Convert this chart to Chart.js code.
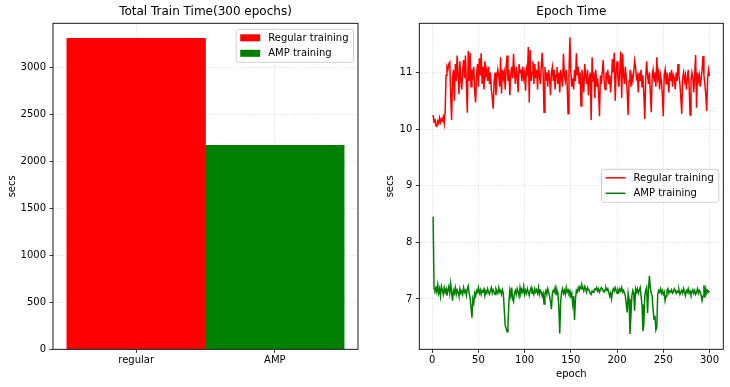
<!DOCTYPE html>
<html><head><meta charset="utf-8">
<script src="https://cdn.jsdelivr.net/npm/chart.js@4.4.1/dist/chart.umd.min.js"></script>
<style>
html,body{margin:0;padding:0;background:#fff;}
body{width:730px;height:387px;position:relative;overflow:hidden;}
canvas{position:absolute;top:0;}
#c1{left:0;} #c2{left:365px;}
</style></head><body>
<canvas id="c1" width="365" height="387"></canvas>
<canvas id="c2" width="365" height="387"></canvas>
<script>
// ---------- data ----------
const categories = ['regular', 'AMP'];
const seriesNames = ['Regular training', 'AMP training'];
const totalTrainTime = [3308, 2170];
const barTicks = [0, 500, 1000, 1500, 2000, 2500, 3000];
const epochTicks = [0, 50, 100, 150, 200, 250, 300];
const secsTicks = [7, 8, 9, 10, 11];

const regularEpochTime = [
10.25,10.12,10.18,10.06,10.05,10.14,10.10,10.20,10.12,10.18,10.15,10.22,10.10,10.30,10.95,11.10,11.05,11.15,11.18,10.60,
10.16,10.90,11.05,10.50,11.15,10.85,11.30,10.95,10.62,11.20,10.85,10.70,11.05,11.22,10.90,11.30,10.80,10.29,11.38,10.85,
11.35,10.75,11.05,10.95,11.10,10.65,10.47,10.95,11.15,10.75,11.25,10.95,11.34,10.80,11.10,10.70,11.20,10.95,11.05,10.85,
11.10,10.80,11.00,10.70,10.55,10.36,10.85,11.00,10.60,10.90,11.05,10.95,10.75,11.27,10.63,11.05,10.90,11.00,10.70,11.10,
11.30,10.85,11.05,10.60,10.95,11.10,10.90,11.33,11.00,10.80,11.10,10.95,10.65,11.15,11.00,11.05,10.85,11.10,10.90,11.00,
10.68,11.05,10.95,11.45,10.47,11.40,10.85,11.00,11.20,10.80,11.15,10.90,11.05,10.70,11.20,10.95,10.80,11.10,11.35,11.00,
10.30,11.10,10.85,11.00,10.75,11.05,10.90,10.60,11.00,11.10,10.85,11.05,10.70,10.95,11.10,10.80,11.00,10.65,11.05,10.90,
10.75,11.33,10.95,10.85,11.05,10.80,10.27,11.00,11.62,11.00,10.75,10.90,10.70,11.05,10.85,11.34,10.95,11.10,10.80,11.00,
10.41,11.05,10.90,10.65,11.15,10.95,10.80,11.05,10.60,10.90,11.00,10.16,11.27,10.85,11.00,10.55,11.05,10.75,10.90,10.65,
10.23,10.95,10.80,11.00,11.22,10.85,10.70,11.00,10.90,11.05,10.80,10.95,10.65,10.90,11.24,11.00,11.35,10.50,11.00,11.20,
10.90,10.75,11.05,11.37,10.55,11.33,10.95,10.80,11.10,10.90,10.65,10.25,10.85,11.05,10.75,10.95,10.85,11.00,11.21,11.10,
10.90,10.95,10.65,11.00,10.85,11.05,10.75,10.95,10.60,10.18,10.90,11.20,10.95,10.80,11.00,10.65,10.30,10.95,11.05,10.85,
11.00,10.75,11.27,10.90,11.00,10.70,10.95,10.85,10.60,10.23,10.95,11.05,10.80,11.00,10.90,10.65,11.00,10.85,11.05,10.75,
10.95,10.90,10.70,11.00,10.85,11.15,10.95,10.80,10.55,10.27,10.90,11.00,10.85,10.95,10.70,10.90,11.05,10.75,10.25,10.85,
11.00,10.90,10.65,10.95,11.31,10.38,11.00,10.85,10.95,10.75,10.90,11.05,11.29,10.95,10.80,10.60,10.32,10.90,11.05,10.94
];

const ampEpochTime = [
8.45,7.18,7.15,7.20,7.12,7.25,7.10,7.18,7.05,7.22,7.15,7.08,7.20,7.12,7.18,7.06,7.15,7.22,7.10,7.27,
7.12,6.97,7.15,7.10,7.20,7.08,7.16,7.12,7.05,7.18,7.10,7.14,7.08,7.20,7.12,7.15,7.06,7.18,7.23,7.10,
7.02,6.85,6.67,7.00,6.93,7.10,7.05,7.15,7.12,7.20,7.10,7.16,7.08,7.15,7.12,7.20,7.06,7.14,7.10,7.18,
7.12,7.08,7.15,7.20,7.10,7.16,7.12,7.08,7.18,7.14,7.10,7.20,7.12,7.15,7.08,7.16,7.10,6.80,6.53,6.48,
6.42,6.55,6.95,7.15,7.05,7.20,7.00,6.95,7.10,7.15,7.08,7.18,7.12,7.05,7.20,7.10,7.16,7.12,7.22,7.08,
7.15,7.10,7.18,7.12,7.06,7.15,7.20,7.10,7.14,7.08,7.18,7.12,7.16,7.10,7.20,7.08,7.15,7.12,7.05,7.10,
6.91,7.10,7.15,7.08,7.18,7.12,7.05,6.95,6.82,7.10,7.15,7.12,7.20,7.08,7.16,7.10,6.85,6.39,6.95,7.12,
7.18,7.10,7.15,7.08,7.20,7.12,7.16,7.10,7.14,7.05,7.10,6.91,7.05,6.63,7.00,7.15,7.12,7.20,7.15,7.22,
7.18,7.25,7.20,7.14,7.22,7.18,7.12,7.20,7.16,7.15,7.10,7.08,7.14,7.12,7.15,7.18,7.16,7.20,7.14,7.18,
7.12,7.16,7.20,7.18,7.14,7.12,7.16,7.20,7.15,7.18,7.12,7.05,7.10,7.00,7.12,7.18,7.14,7.20,7.15,7.10,
7.16,7.12,7.18,7.14,7.20,7.12,7.15,7.10,7.05,6.90,6.76,7.10,7.00,6.38,6.70,7.05,7.15,7.10,6.79,7.18,
7.12,7.18,7.10,7.15,7.20,7.05,6.90,6.43,6.55,7.05,7.15,7.20,6.75,7.15,7.41,7.20,7.10,7.05,6.80,6.64,
6.70,6.45,6.50,7.09,7.15,7.12,7.18,7.10,7.15,7.08,7.12,6.97,7.05,7.15,7.18,7.10,7.14,7.12,7.16,7.10,
7.12,7.18,7.15,7.10,7.14,7.12,7.16,7.08,7.12,7.15,7.10,7.18,7.12,7.06,7.15,7.12,7.18,7.10,7.14,7.08,
7.12,7.16,7.10,7.15,7.08,7.12,7.18,7.10,7.15,7.12,7.06,6.97,7.05,7.24,7.02,7.18,7.10,7.15,7.12,7.14
];

const seriesColors = ['#ff0000', '#008000'];

// ---------- styling helpers ----------
const FONT = 'DejaVu Sans';
Chart.defaults.font.family = FONT;
Chart.defaults.font.size = 10;
Chart.defaults.color = '#000';

const gridStyle = {
  color: 'rgba(176,176,176,0.55)', lineWidth: 0.8,
  drawTicks: true, tickLength: 3.5, tickColor: '#000', tickWidth: 0.8, tickBorderDash: []
};
const borderStyle = { display: false, dash: [1, 1.6] };

const framePlugin = {
  id: 'frame',
  afterLayout(chart) {
    const t = chart.titleBlock, a = chart.chartArea;
    if (t) { t.left = a.left; t.right = a.right; t.width = a.right - a.left; }
  },
  afterDraw(chart) {
    const {ctx, chartArea: a} = chart;
    ctx.save();
    ctx.strokeStyle = '#000'; ctx.lineWidth = 0.9;
    ctx.strokeRect(a.left, a.top, a.right - a.left, a.bottom - a.top);
    ctx.restore();
  }
};

function makeLegend(kind, vpos) {
  return {
    id: 'mplLegend',
    afterDraw(chart) {
      const {ctx, chartArea: a} = chart;
      const dss = chart.data.datasets;
      ctx.save();
      ctx.font = '10px "' + FONT + '"';
      const tw = Math.max(...dss.map(d => ctx.measureText(d.label).width));
      const w = 4 + 20 + 8 + tw + 5;
      const h = 33;
      const right = a.right - 4.5;
      const left = right - w;
      const top = vpos === 'top' ? a.top + 6 : (a.top + a.bottom) / 2 - h / 2 - 0.5;
      ctx.beginPath();
      if (ctx.roundRect) ctx.roundRect(left, top, w, h, 2.5); else ctx.rect(left, top, w, h);
      ctx.fillStyle = 'rgba(255,255,255,0.85)'; ctx.fill();
      ctx.strokeStyle = '#d0d0d0'; ctx.lineWidth = 1; ctx.stroke();
      dss.forEach((d, i) => {
        const cy = top + 8.5 + i * 15.5;
        if (kind === 'bar') {
          ctx.fillStyle = d.backgroundColor;
          ctx.fillRect(left + 4, cy - 3.5, 20, 7);
        } else {
          ctx.strokeStyle = d.borderColor; ctx.lineWidth = 1.5;
          ctx.beginPath(); ctx.moveTo(left + 4, cy); ctx.lineTo(left + 24, cy); ctx.stroke();
        }
        ctx.fillStyle = '#000'; ctx.textAlign = 'left'; ctx.textBaseline = 'middle';
        ctx.fillText(d.label, left + 32, cy + 0.5);
      });
      ctx.restore();
    }
  };
}

// ---------- left: total train time ----------
new Chart(document.getElementById('c1'), {
  type: 'bar',
  data: {
    datasets: seriesNames.map((name, i) => ({
      label: name,
      data: [{x: i, y: totalTrainTime[i]}],
      backgroundColor: seriesColors[i],
      borderWidth: 0,
      grouped: false,
      categoryPercentage: 1.0,
      barPercentage: 1.0
    }))
  },
  options: {
    responsive: false, animation: false,
    layout: { padding: { left: 0, right: 7, top: 0, bottom: 0 } },
    plugins: {
      legend: { display: false },
      tooltip: { enabled: false },
      title: { display: true, text: 'Total Train Time(300 epochs)', color: '#000',
               font: { size: 12, weight: 'normal' }, padding: { top: 5, bottom: 3.9 } }
    },
    scales: {
      x: {
        type: 'linear', min: -0.6, max: 1.6, offset: false, z: 1,
        afterBuildTicks: s => { s.ticks = categories.map((c, i) => ({value: i})); },
        afterFit: s => { s.height = 37.7; },
        ticks: { color: '#000', padding: 2, maxRotation: 0, autoSkip: false,
                 callback: v => categories[v] !== undefined ? categories[v] : '' },
        grid: Object.assign({ offset: false }, gridStyle),
        border: borderStyle
      },
      y: {
        type: 'linear', min: 0, max: 3468, z: 1,
        afterBuildTicks: s => { s.ticks = barTicks.map(v => ({value: v})); },
        afterFit: s => { s.width = 53; },
        ticks: { color: '#000', padding: 3.5, callback: v => String(v) },
        grid: gridStyle,
        border: borderStyle,
        title: { display: true, text: 'secs', color: '#000', padding: { top: 6, bottom: 0 } }
      }
    }
  },
  plugins: [framePlugin, makeLegend('bar', 'top')]
});

// ---------- right: epoch time ----------
new Chart(document.getElementById('c2'), {
  type: 'line',
  data: {
    datasets: [regularEpochTime, ampEpochTime].map((arr, i) => ({
      label: seriesNames[i],
      data: arr.map((v, k) => ({x: k + 1, y: v})),
      borderColor: seriesColors[i],
      backgroundColor: seriesColors[i],
      borderWidth: 1.5,
      pointRadius: 0,
      tension: 0,
      fill: false
    }))
  },
  options: {
    responsive: false, animation: false,
    layout: { padding: { left: 0, right: 6.7, top: 0, bottom: 0 } },
    plugins: {
      legend: { display: false },
      tooltip: { enabled: false },
      title: { display: true, text: 'Epoch Time', color: '#000',
               font: { size: 12, weight: 'normal' }, padding: { top: 5, bottom: 3.9 } }
    },
    scales: {
      x: {
        type: 'linear', min: -13.95, max: 314.95,
        afterBuildTicks: s => { s.ticks = epochTicks.map(v => ({value: v})); },
        afterFit: s => { s.height = 37.7; },
        ticks: { color: '#000', padding: 2, maxRotation: 0, autoSkip: false, callback: v => String(v) },
        grid: gridStyle,
        border: borderStyle,
        title: { display: true, text: 'epoch', color: '#000', padding: { top: 0, bottom: 7 } }
      },
      y: {
        type: 'linear', min: 6.11, max: 11.87,
        afterBuildTicks: s => { s.ticks = secsTicks.map(v => ({value: v})); },
        afterFit: s => { s.width = 54.3; },
        ticks: { color: '#000', padding: 3.5, callback: v => String(v) },
        grid: gridStyle,
        border: borderStyle,
        title: { display: true, text: 'secs', color: '#000', padding: { top: 19, bottom: 0 } }
      }
    }
  },
  plugins: [framePlugin, makeLegend('line', 'center')]
});
</script>
</body></html>
